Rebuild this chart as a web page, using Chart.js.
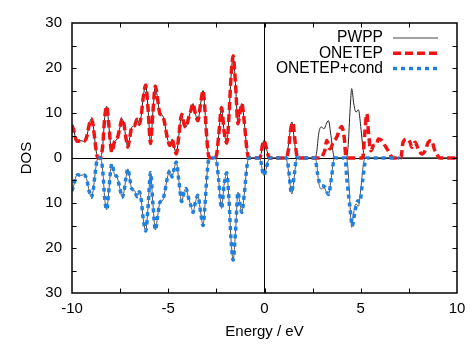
<!DOCTYPE html>
<html>
<head>
<meta charset="utf-8">
<title>DOS</title>
<script src="https://cdn.jsdelivr.net/npm/chart.js@4.4.1/dist/chart.umd.min.js"></script>
<style>
    html, body { margin: 0; padding: 0; background: #fff; }
    canvas { display: block; }
</style>
</head>
<body>
<canvas id="dosChart" width="474" height="345"></canvas>
<script>
// --- Data ---
// Valence part, same for all three curves
const valenceEnergy = [-10.0, -9.9, -9.8, -9.7, -9.55, -9.4, -9.25, -9.1, -9.0, -8.9,
    -8.8, -8.7, -8.6, -8.5, -8.4, -8.3, -8.2, -8.1, -8.0, -7.93,
    -7.8, -7.65, -7.5, -7.4, -7.3, -7.2, -7.1, -7.0, -6.9, -6.75,
    -6.62, -6.5, -6.4, -6.3, -6.17, -6.05, -5.92, -5.8, -5.67, -5.55,
    -5.43, -5.3, -5.2, -5.05, -4.92, -4.8, -4.7, -4.58, -4.45, -4.3,
    -4.18, -4.08, -3.95, -3.83, -3.71, -3.6, -3.46, -3.32, -3.19, -3.1,
    -3.0, -2.9, -2.8, -2.6, -2.5, -2.38, -2.23, -2.1, -1.96, -1.85,
    -1.74, -1.63, -1.5, -1.38, -1.28, -1.18, -1.05, -0.93, -0.85, -0.75,
    -0.3, -0.2, -0.1, -0.03, 0.08, 0.2, 0.3];
const valenceDos = [7.3, 6.0, 4.2, 3.7, 3.9, 3.7, 4.5, 7.5, 8.7, 7.2,
    3.5, 0.5, 0, 0.2, 3, 9, 11.5, 8, 3, 1.3,
    3.5, 4.3, 7, 8.7, 7.5, 4.5, 2.4, 4.5, 6.8, 7.2,
    8.6, 7.5, 9.5, 13.5, 16.2, 11, 3.2, 10, 16.0, 13,
    9.8, 9.5, 8, 4.5, 2.8, 4.2, 2.5, 0.9, 5, 9.7,
    7.5, 6.8, 8.8, 10.5, 12.1, 10, 8.3, 12, 15, 11,
    4.5, 0.4, 0, 0, 0.5, 5, 11.2, 6, 3.3, 9,
    18, 22.7, 16, 7.6, 10, 12.1, 8, 2.5, 0.3, 0,
    0, 0.5, 3, 3.9, 2.5, 0.5, 0];

// Conduction part, one per curve
const pwppCondEnergy = [1.1, 1.2, 1.3, 1.42, 1.55, 1.65, 1.72,
    2.6, 2.7, 2.82, 2.94, 3.1, 3.2, 3.32, 3.45, 3.58, 3.65,
    4.25, 4.35, 4.45, 4.53, 4.64, 4.75, 4.88, 5.0, 5.12, 5.22, 10.0];
const pwppCondDos = [0, 1.5, 5, 8.0, 4, 0.5, 0,
    0, 1, 5.5, 6.9, 6.5, 7.5, 8.3, 5, 0.8, 0,
    0, 3, 11, 15.4, 12, 10.2, 10.7, 7, 2, 0, 0];

const onetepCondEnergy = [1.12, 1.25, 1.35, 1.47, 1.58, 1.68, 1.75,
    2.95, 3.05, 3.14, 3.23, 3.4, 3.57, 3.75, 3.92, 4.0, 4.15,
    4.22, 4.28, 5.1, 5.2, 5.32, 5.4, 5.53, 5.66, 5.83, 5.91,
    6.09, 6.26, 6.43, 6.6, 6.7, 7.08, 7.2, 7.39, 7.56, 7.65,
    7.82, 7.99, 8.17, 8.34, 8.51, 8.69, 8.82, 9.0, 9.1, 10.0];
const onetepCondDos = [0, 2, 6, 7.9, 4, 0.5, 0,
    0, 0.8, 1.8, 3.9, 2.0, 3.5, 4.6, 6.5, 7.0, 4.2,
    0.5, 0, 0, 5, 9.8, 5.7, 1.6, 2.75, 3.1, 4.2,
    3.9, 2.75, 1.6, 0.3, 0, 0, 3.5, 4.2, 3.5, 2.4,
    3.5, 2.0, 0.9, 1.6, 3.5, 3.9, 2.0, 0.5, 0, 0];

const condCondEnergy = [1.15, 1.24, 1.4, 1.55, 1.67,
    2.62, 2.76, 2.88, 3.05, 3.15, 3.32, 3.49, 3.63,
    4.19, 4.27, 4.44, 4.56, 4.7, 4.85, 4.95, 5.1, 5.22, 5.3, 7.0];
const condCondDos = [0, 2.1, 7.7, 3.6, 0,
    0, 3.6, 5.8, 6.2, 6.6, 8.1, 4.0, 0,
    0, 4.3, 11, 15.1, 11.8, 9.5, 9.8, 5, 1, 0, 0];

// Axis ticks
const xLabelTicks = [-10, -5, 0, 5, 10];
const xTickMarks = [-7.5, -5, -2.5, 0, 2.5, 5, 7.5];
const yTickMarks = [-25, -20, -15, -10, -5, 0, 5, 10, 15, 20, 25];

// --- Style ---
const FONT = { family: '"Liberation Sans", Arial, sans-serif', size: 15 };
const LEGEND_FONT_SIZE = 15.6;
const RED = '#f01414';
const BLUE = '#2080e0';
const TICK_LEN = 4.5;

// --- Helpers ---
function toPoints(energy, dos, sign) {
    return energy.map((e, i) => ({ x: e, y: sign * dos[i] }));
}

const pwpp = toPoints(valenceEnergy.concat(pwppCondEnergy), valenceDos.concat(pwppCondDos), 1);
const pwppMirror = toPoints(valenceEnergy.concat(pwppCondEnergy), valenceDos.concat(pwppCondDos), -1);
const onetep = toPoints(valenceEnergy.concat(onetepCondEnergy), valenceDos.concat(onetepCondDos), 1);
const onetepCond = toPoints(valenceEnergy.concat(condCondEnergy), valenceDos.concat(condCondDos), -1);

// --- Plugins ---
// gnuplot style frame with inward ticks on all four sides
const frameTicks = {
    id: 'frameTicks',
    afterDraw(chart) {
        const { ctx, chartArea: a, scales: { x, y } } = chart;
        ctx.save();
        ctx.strokeStyle = '#000';
        ctx.lineWidth = 1;
        ctx.beginPath();
        xTickMarks.forEach(v => {
            const px = Math.round(x.getPixelForValue(v)) + 0.5;
            ctx.moveTo(px, a.bottom); ctx.lineTo(px, a.bottom - TICK_LEN);
            ctx.moveTo(px, a.top); ctx.lineTo(px, a.top + TICK_LEN);
        });
        yTickMarks.forEach(v => {
            const py = Math.round(y.getPixelForValue(v)) + 0.5;
            ctx.moveTo(a.left, py); ctx.lineTo(a.left + TICK_LEN, py);
            ctx.moveTo(a.right, py); ctx.lineTo(a.right - TICK_LEN, py);
        });
        ctx.stroke();
        ctx.lineWidth = 1.5;
        ctx.strokeRect(a.left, a.top, a.right - a.left, a.bottom - a.top);
        ctx.restore();
    }
};

// Legend: text right aligned, line sample on the right
const keyLegend = {
    id: 'keyLegend',
    afterDraw(chart) {
        const { ctx } = chart;
        const textRight = 383, lineStart = 393, lineEnd = 438;
        let rowY = 38;
        ctx.save();
        ctx.font = `${LEGEND_FONT_SIZE}px ${FONT.family}`;
        ctx.textAlign = 'right';
        ctx.textBaseline = 'middle';
        chart.data.datasets.filter(ds => ds.label).sort((a, b) => b.order - a.order).forEach(ds => {
            ctx.fillStyle = '#000';
            ctx.fillText(ds.label, textRight, rowY);
            ctx.strokeStyle = ds.legendColor || ds.borderColor;
            ctx.lineWidth = ds.borderWidth;
            ctx.setLineDash(ds.borderDash || []);
            ctx.beginPath();
            ctx.moveTo(lineStart, rowY);
            ctx.lineTo(lineEnd, rowY);
            ctx.stroke();
            rowY += 15.3;
        });
        ctx.restore();
    }
};

// --- Chart ---
const lineDefaults = { pointRadius: 0, fill: false, cubicInterpolationMode: 'monotone' };

new Chart(document.getElementById('dosChart'), {
    type: 'line',
    data: {
        datasets: [
            { ...lineDefaults, label: 'ONETEP+cond', data: onetepCond, borderColor: BLUE,
              borderWidth: 3.5, borderDash: [4, 4], order: 0 },
            { ...lineDefaults, label: 'ONETEP', data: onetep, borderColor: RED,
              borderWidth: 3.5, borderDash: [8, 4], order: 1 },
            { ...lineDefaults, label: 'PWPP', data: pwpp, borderColor: '#222',
              legendColor: '#444', borderWidth: 1, order: 2 },
            { ...lineDefaults, label: '', data: pwppMirror, borderColor: '#555',
              borderWidth: 1, order: 3 }
        ]
    },
    options: {
        responsive: false,
        animation: false,
        events: [],
        layout: { padding: { left: 0, top: 23, right: 17, bottom: 0 } },
        plugins: { legend: { display: false }, tooltip: { enabled: false } },
        scales: {
            x: {
                type: 'linear',
                min: -10, max: 10,
                afterFit: s => { s.height = 52; },
                afterBuildTicks: s => { s.ticks = xLabelTicks.map(v => ({ value: v })); },
                ticks: { color: '#000', font: FONT, padding: 7, maxRotation: 0 },
                grid: {
                    drawTicks: false,
                    color: c => (c.tick && c.tick.value === 0 ? '#000' : 'rgba(0,0,0,0)'),
                    lineWidth: 1
                },
                border: { display: false },
                title: { display: true, text: 'Energy / eV', color: '#000', font: FONT, padding: { top: 0, bottom: 4 } }
            },
            y: {
                min: -30, max: 30,
                afterFit: s => { s.width = 72; },
                ticks: { stepSize: 10, color: '#000', font: FONT, padding: 10, callback: v => Math.abs(v) },
                grid: {
                    drawTicks: false,
                    color: c => (c.tick && c.tick.value === 0 ? '#000' : 'rgba(0,0,0,0)'),
                    lineWidth: 1
                },
                border: { display: false },
                title: { display: true, text: 'DOS', color: '#000', font: FONT, padding: { top: 18, bottom: 0 } }
            }
        }
    },
    plugins: [frameTicks, keyLegend]
});
</script>
</body>
</html>
